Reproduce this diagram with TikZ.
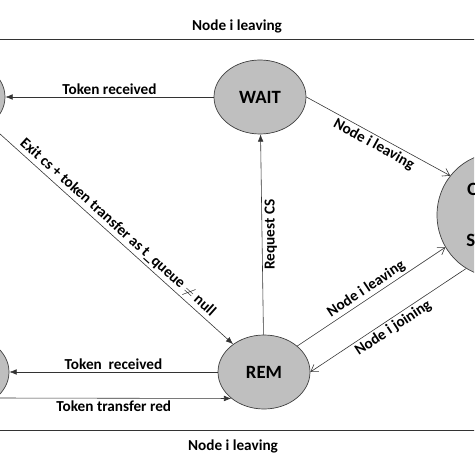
\documentclass[tikz,border=0pt]{standalone}
\usepackage{fontspec}
\setmainfont{Carlito}
\usepackage{tikz}
\usetikzlibrary{shapes.geometric,arrows.meta,positioning}

\begin{document}
\begin{tikzpicture}[
  x=0.3mm, y=-0.3mm,
  state/.style={ellipse, draw=black!75, fill=gray!50, line width=0.6pt, inner sep=0pt, minimum width=27.6mm, minimum height=22.2mm, font=\bfseries\fontsize{16}{19}\selectfont},
  lbl/.style={font=\bfseries\fontsize{13}{15}\selectfont, inner sep=2pt},
  arrow/.style={-{Latex[length=2.2mm,width=1.7mm]}, draw=black!80, line width=0.5pt},
  barb/.style={-{Straight Barb[length=2mm,width=2.6mm]}, draw=black!80, line width=0.5pt},
]
  \useasboundingbox (0,0) rectangle (474,474);
  \clip (0,0) rectangle (474,474);

  \node[state] (wait) at (260,97) {WAIT};
  \node[state] (rem) at (264,372) {REM};
  \node[state] (idle) at (-41,97) {};
  \node[state] (cs) at (-37,372) {CS};
  \node[state, minimum width=36mm, minimum height=37.2mm, align=center] (out) at (497,215) {OUT OF\\[24pt]SYSTEM};

  \coordinate (topl) at (-60,39);
  \coordinate (topr) at (540,39);
  \coordinate (botl) at (-60,430);
  \coordinate (botr) at (540,430);
  \draw[black!80, line width=0.6pt] (topl) -- (topr);
  \draw[black!80, line width=0.6pt] (botl) -- (botr);
  \node[lbl] (lvtop) at (237,26) {Node i leaving};
  \node[lbl] (lvbot) at (233,446) {Node i leaving};

  \draw[arrow] (wait) -- (idle) node[lbl, midway, above] {Token received};
  \draw[arrow] (idle) -- (rem) node[lbl, midway, above, sloped] {Exit cs + token transfer as t\_queue $\neq$ null};
  \draw[arrow] (rem) -- (wait) node[lbl, midway, rotate=90, anchor=north] {Request CS};
  \draw[arrow] (rem) -- (cs) node[lbl, midway, above] {Token\ \ received};
  \draw[arrow] (cs.-38.5) -- (rem.-141.5) node[lbl, midway, below] {Token transfer red};

  \draw[barb] (wait.east) -- (out.140) node[lbl, midway, below, sloped] {Node i leaving};
  \draw[barb] (rem.38.5) -- (out.-148) node[lbl, midway, above, sloped] {Node i leaving};
  \draw[barb] (out.-120) -- (rem.east);
  \path (rem.east) -- (out.-120) node[lbl, midway, below, sloped] {Node i joining};
\end{tikzpicture}
\end{document}
